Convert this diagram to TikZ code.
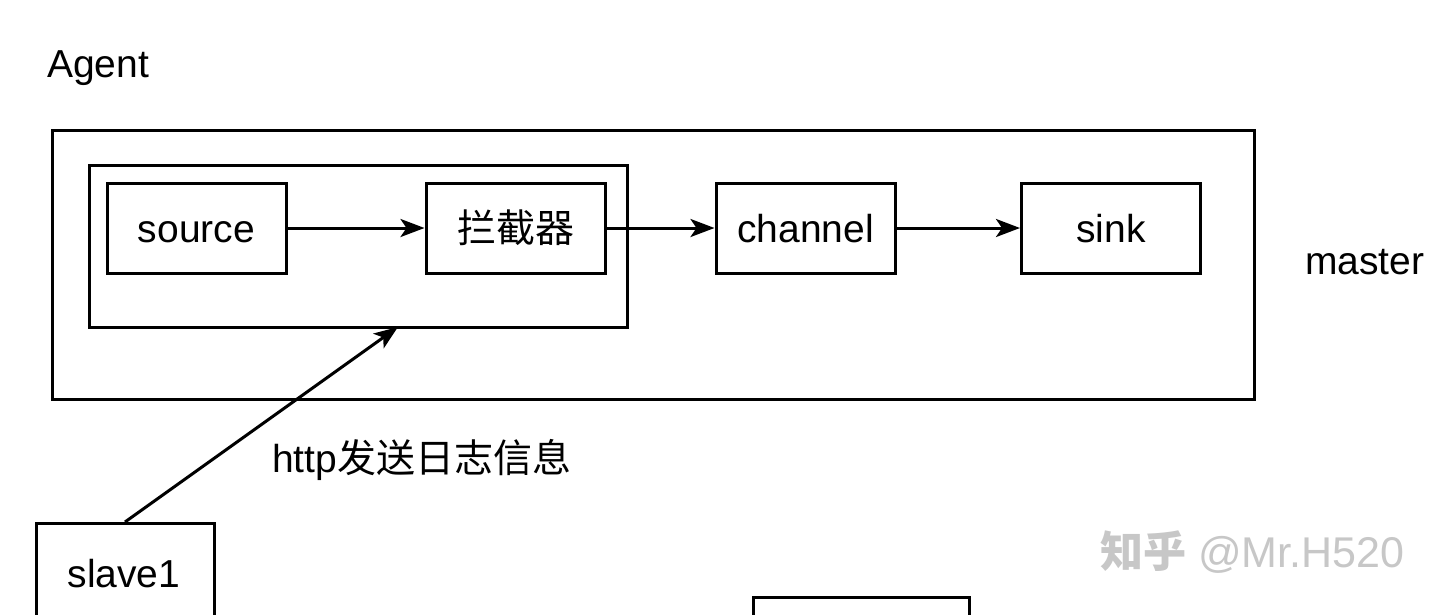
\documentclass[tikz,border=0pt]{standalone}
\usepackage{fontspec}
\setmainfont{Liberation Sans}
\newfontfamily\cjk{Noto Sans CJK SC}
\usetikzlibrary{arrows.meta}
\begin{document}
\begin{tikzpicture}[x=1pt,y=-1pt,
  box/.style={draw,line width=3pt,minimum width=179pt,minimum height=90pt,inner sep=0pt,text height=32pt,text depth=4pt,font=\fontsize{39}{46}\selectfont},
  frame/.style={draw,line width=3pt},
  conn/.style={line width=3pt,-{Stealth[length=24pt,width=18pt,inset=6pt]}},
  txt/.style={inner sep=0pt,font=\fontsize{39}{46}\selectfont}]
\useasboundingbox (0,0) rectangle (1440,614);
\clip (0,0) rectangle (1440,614);
\fill[white] (0,0) rectangle (1440,614);
\node[txt,anchor=west] (agent) at (47,68) {Agent};
\draw[frame] (52,130) rectangle (1254,399);
\draw[frame] (89,165) rectangle (627,327);
\coordinate (innerbot) at (398,327);
\node[box] (source) at (196.5,228) {source};
\node[box] (icp) at (515.5,228) {\cjk 拦截器};
\node[box] (channel) at (805.5,228) {channel};
\node[box] (sink) at (1111,228) {sink};
\node[txt,anchor=west] (master) at (1305,262) {master};
\node[box,anchor=north west,minimum width=178pt,minimum height=120pt] (slave) at (35,522) {};
\node[txt] at (124,574) {slave1};
\node[box,anchor=north west,minimum width=216pt,minimum height=80pt] (other) at (752,596) {};
\draw[conn] (source) -- (icp);
\draw[conn] (icp.east) -- (channel);
\draw[conn] (channel) -- (sink);
\draw[conn] (125,522) -- (innerbot);
\node[txt,anchor=west] (lbl) at (272,460) {http{\cjk 发送日志信息}};
\node[txt,anchor=west,text=black!22,font=\fontsize{43}{50}\selectfont] (wm) at (1100,552) {{\cjk\bfseries 知乎} @Mr.H520};
\end{tikzpicture}
\end{document}
